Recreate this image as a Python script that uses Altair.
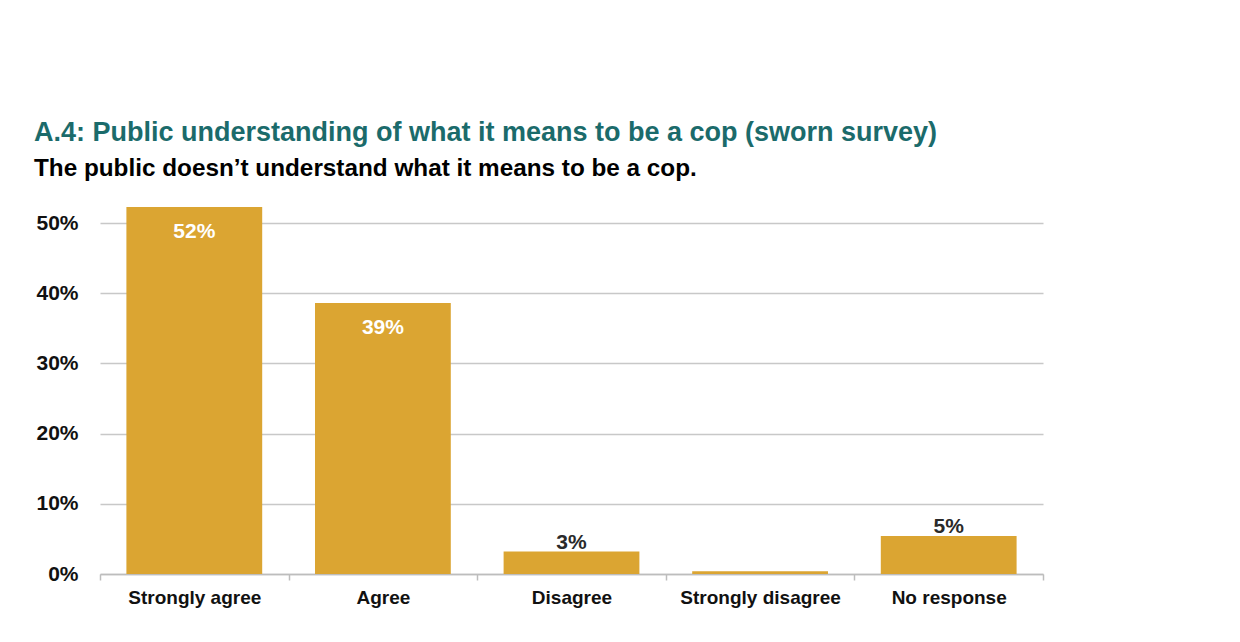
import altair as alt
import pandas as pd

categories = ["Strongly agree", "Agree", "Disagree", "Strongly disagree", "No response"]
values = [52.3, 38.6, 3.2, 0.4, 5.4]
labels = ["52%", "39%", "3%", "", "5%"]
y_ticks = [0, 10, 20, 30, 40, 50]

df = pd.DataFrame({"cat": categories, "val": values, "lab": labels})

FONT = "Liberation Sans"
BAR = "#DBA532"

x = alt.X("cat:N", sort=categories, title=None,
          scale=alt.Scale(paddingInner=0, paddingOuter=0),
          axis=alt.Axis(labelAngle=0, labelFont=FONT, labelFontSize=19, labelFontWeight="bold",
                        labelColor="#111111", tickBand="extent", tickColor="#bdbdbd", tickSize=6,
                        tickWidth=1.5, domainColor="#bdbdbd", domainWidth=1.5, labelPadding=8,
                        grid=False))
y = alt.Y("val:Q", title=None,
          scale=alt.Scale(domain=[0, 53], nice=False),
          axis=alt.Axis(values=y_ticks, labelExpr="datum.value + '%'", labelFont=FONT,
                        labelFontSize=21, labelFontWeight="bold", labelColor="#111111",
                        domain=False, ticks=False, labelPadding=22, gridColor="#c8c8c8",
                        gridWidth=1.5))

bars = alt.Chart(df).mark_bar(color=BAR, width=alt.RelativeBandSize(0.72)).encode(x=x, y=y)

inside = alt.Chart(df).transform_filter("datum.val > 20").mark_text(
    font=FONT, fontSize=21, fontWeight="bold", color="white", baseline="alphabetic", dy=31
).encode(x=alt.X("cat:N", sort=categories), y="val:Q", text="lab:N")

outside = alt.Chart(df).transform_filter("datum.val <= 20 && datum.lab != ''").mark_text(
    font=FONT, fontSize=21, fontWeight="bold", color="#2a2a2a", baseline="alphabetic", dy=-3
).encode(x=alt.X("cat:N", sort=categories), y="val:Q", text="lab:N")

chart = alt.layer(bars, inside, outside).properties(
    width=943, height=372,
    background="white",
    autosize=alt.AutoSizeParams(type="none"),
    padding={"left": 100, "top": 202, "right": 197, "bottom": 68},
    title=alt.TitleParams(
        text="A.4: Public understanding of what it means to be a cop (sworn survey)",
        subtitle="The public doesn\u2019t understand what it means to be a cop.",
        anchor="start", dx=-2, font=FONT, fontSize=27, fontWeight="bold", color="#1B6B6B",
        subtitleFont=FONT, subtitleFontSize=24.3, subtitleFontWeight="bold", subtitleColor="#000000",
        subtitlePadding=10, offset=20),
).configure_view(strokeWidth=0, stroke="transparent")

chart.save("out.html", embed_options={"renderer": "svg", "actions": False})
